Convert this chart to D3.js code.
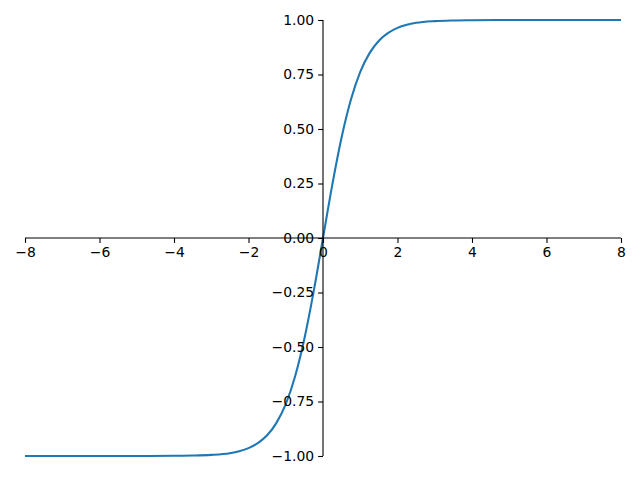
<!doctype html>
<meta charset="utf-8">
<title>tanh</title>
<script src="https://d3js.org/d3.v7.min.js"></script>
<style>
body { margin: 0; background: #fff; }
svg text { font-family: "DejaVu Sans", sans-serif; font-size: 13.9px; fill: #000; }
</style>
<svg id="svg" width="640" height="480"></svg>
<script>
// points
var xs = [-8, -6, -5, -4, -3.5, -3, -2.5, -2.25, -2, -1.75, -1.5, -1.25, -1, -0.75, -0.5, -0.25, 0,
          0.25, 0.5, 0.75, 1, 1.25, 1.5, 1.75, 2, 2.25, 2.5, 3, 3.5, 4, 5, 6, 8];
var ys = [-1.0, -1.0, -1.0, -0.999, -0.998, -0.995, -0.987, -0.978, -0.964, -0.941, -0.905, -0.848, -0.762, -0.635, -0.462, -0.245, 0,
          0.245, 0.462, 0.635, 0.762, 0.848, 0.905, 0.941, 0.964, 0.978, 0.987, 0.995, 0.998, 0.999, 1.0, 1.0, 1.0];
var xTicks = [-8, -6, -4, -2, 0, 2, 4, 6, 8];
var yTicks = [-1, -0.75, -0.5, -0.25, 0, 0.25, 0.5, 0.75, 1];

var svg = d3.select("svg");
var x = d3.scaleLinear().domain([-8, 8]).range([25, 621]);
var y = d3.scaleLinear().domain([-1, 1]).range([456, 20]);

var pts = xs.map(function(d, i) { return [d, ys[i]]; });

svg.append("path")
  .datum(pts)
  .attr("fill", "none")
  .attr("stroke", "#1f77b4")
  .attr("stroke-width", 2.08)
  .attr("d", d3.line().x(function(d) { return x(d[0]); })
                      .y(function(d) { return y(d[1]); })
                      .curve(d3.curveMonotoneX));

var xAxis = svg.append("g")
  .attr("transform", "translate(0," + y(0) + ")")
  .call(d3.axisBottom(x).tickValues(xTicks).tickSize(4.9).tickPadding(4)
        .tickFormat(function(d) { return d3.format("d")(d).replace("-", "\u2212"); }));

var yAxis = svg.append("g")
  .attr("transform", "translate(" + x(0) + ",0)")
  .call(d3.axisLeft(y).tickValues(yTicks).tickSize(4.9).tickPadding(4)
        .tickFormat(function(d) { return d3.format(".2f")(d).replace("-", "\u2212"); }));

svg.selectAll(".domain").attr("stroke", "#000").attr("stroke-width", 1.1);
svg.selectAll(".tick line").attr("stroke", "#000").attr("stroke-width", 1.1);
svg.selectAll(".tick text").attr("font-family", "DejaVu Sans").attr("font-size", "13.9px").attr("fill", "#000");
// matplotlib draws no end caps on the spines
xAxis.select(".domain").attr("d", "M" + x(-8) + ",0H" + x(8));
yAxis.select(".domain").attr("d", "M0," + y(1) + "V" + y(-1));
</script>
